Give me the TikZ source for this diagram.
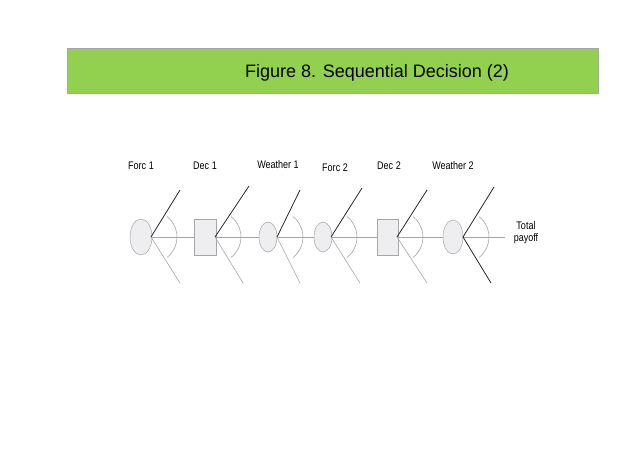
\documentclass[tikz,border=0pt]{standalone}
\usepackage{fontspec}
\setmainfont{Liberation Sans}
\begin{document}
\begin{tikzpicture}[x=1pt,y=-1pt,
  nodefill/.style={draw=gray!70,fill=blue!8!gray!12,line width=0.5pt},
  up/.style={draw=black!85,line width=0.8pt},
  down/.style={draw=gray!70,line width=0.6pt},
  arcs/.style={draw=gray!80,line width=0.5pt},
  lbl/.style={font=\fontsize{11}{12}\selectfont,xscale=0.82,inner sep=0pt}]
\useasboundingbox (0,0) rectangle (638,451);
\node[draw=gray!70,fill={rgb,255:red,146;green,208;blue,80},minimum width=531pt,minimum height=45pt,anchor=north west,inner sep=0pt] (hdr) at (67,48) {};
\node[font=\fontsize{18}{20}\selectfont,inner sep=0pt] (title) at (377,73) {Figure 8. Sequential Decision (2)};
\coordinate (start) at (141,237);
\coordinate (end) at (505,237);
\draw[gray!70,line width=0.6pt] (start) -- (end);
% nodes
\draw[nodefill] (141,237) ellipse (11 and 18);
\draw[nodefill] (194,219) rectangle (216,255);
\draw[nodefill] (268,237) ellipse (9 and 15);
\draw[nodefill] (323,237) ellipse (9 and 15);
\draw[nodefill] (377,219) rectangle (398,255);
\draw[nodefill] (453,237) ellipse (10 and 17);
% branches
\foreach \ax/\ux/\uy/\lx/\ly/\st in {151/180/190/180/283/down,215/249/186/243/283/down,277/300/190/300/283/down,331/362/188/360/283/down,397/427/190/427/283/down,463/494/187/491/283/up}{
  \coordinate (a) at (\ax,237);
  \draw[up] (a) -- (\ux,\uy);
  \draw[\st] (a) -- (\lx,\ly);
  \draw[arcs] (\ax,237) ++(50:-26) ++(0,0);
  \draw[arcs] ([shift={(52:26)}]a) arc[start angle=52,end angle=-52,radius=26];
}
\node[lbl] (l1) at (141,166) {Forc 1};
\node[lbl] (l2) at (205,166) {Dec 1};
\node[lbl] (l3) at (278,165) {Weather 1};
\node[lbl] (l4) at (335,168) {Forc 2};
\node[lbl] (l5) at (389,166) {Dec 2};
\node[lbl] (l6) at (453,166) {Weather 2};
\node[lbl,align=center] (tp) at (526,233) {Total\\payoff};
\end{tikzpicture}
\end{document}
